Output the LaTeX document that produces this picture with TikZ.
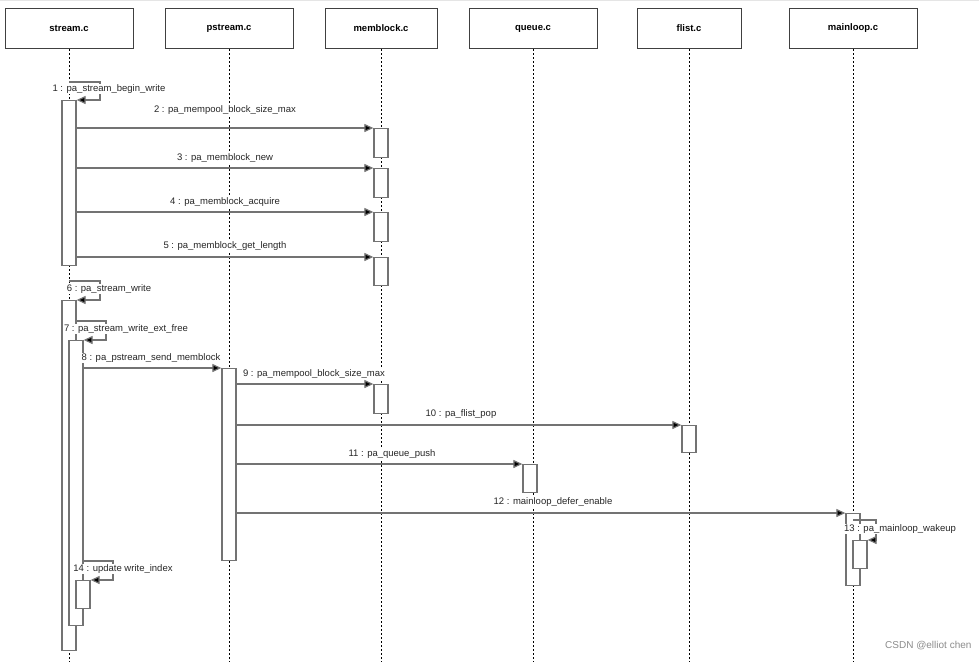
\documentclass[tikz,border=0pt]{standalone}
\usepackage{fontspec}
\setmainfont{Liberation Sans}
\usetikzlibrary{arrows.meta,positioning}

\tikzset{
  head/.style={draw=black!75, line width=1pt, fill=white, minimum width=#1, minimum height=40pt,
    inner sep=0pt, font=\fontsize{9.5}{11}\selectfont\bfseries, anchor=north},
  life/.style={dashed, line width=0.6pt, dash pattern=on 2pt off 2pt},
  actbar/.style={draw=black!55, line width=1.3pt, fill=white, minimum width=14pt, inner sep=0pt, anchor=north},
  msg/.style={draw=black!55, line width=1.2pt, -{Triangle[length=9pt,width=8pt,fill=black]}},
  lbl/.style={fill=white, inner sep=1pt, font=\fontsize{9.5}{11}\selectfont, text=black!85}
}
\newcommand{\actbar}[4]{\node[actbar, minimum height={#4pt-#3pt}] (#1) at (#2,#3) {};}

\begin{document}
\begin{tikzpicture}[x=1pt,y=-1pt]
\useasboundingbox (0,0) rectangle (979,662);
\fill[white] (0,0) rectangle (979,662);
\draw[black!10, line width=1pt, step=16pt] (0,-662) grid (979,0);
% headers
\node[head=128pt] (st) at (69,8) {stream.c};
\node[head=128pt] (ps) at (229,8) {pstream.c};
\node[head=112pt] (mb) at (381,8) {memblock.c};
\node[head=128pt] (qu) at (533,8) {queue.c};
\node[head=104pt] (fl) at (689,8) {flist.c};
\node[head=128pt] (ml) at (853,8) {mainloop.c};
\foreach \n in {st,ps,mb,qu,fl,ml}
  \draw[life] (\n.south) -- (\n.south |- 0,662);
% activations
\actbar{s1}{69}{100}{265}
\actbar{s2}{69}{300}{650}
\actbar{s3}{76}{340}{625}
\actbar{s4}{83}{580}{608}
\actbar{m2}{381}{128}{157}
\actbar{m3}{381}{168}{197}
\actbar{m4}{381}{212}{241}
\actbar{m5}{381}{257}{285}
\actbar{m9}{381}{384}{413}
\actbar{p8}{229}{368}{560}
\actbar{f10}{689}{425}{452}
\actbar{q11}{530}{464}{492}
\actbar{l12}{853}{513}{585}
\actbar{l13}{860}{540}{568}
% self calls
\coordinate (c1) at (100,82);
\draw[msg] (69,82) -- (c1) -- (c1 |- s1.north) -- (s1.north east);
\node[lbl] at (109,89) {1 : pa\_stream\_begin\_write};
\coordinate (c6) at (100,281);
\draw[msg] (69,281) -- (c6) -- (c6 |- s2.north) -- (s2.north east);
\node[lbl] at (109,289) {6 : pa\_stream\_write};
\coordinate (c7) at (106,321);
\draw[msg] (s2.east |- c7) -- (c7) -- (c7 |- s3.north) -- (s3.north east);
\node[lbl] at (126,329) {7 : pa\_stream\_write\_ext\_free};
\coordinate (c13) at (876,520);
\draw[msg] (l12.north |- c13) -- (c13) -- (c13 |- l13.north) -- (l13.north east);
\node[lbl] at (900,529) {13 : pa\_mainloop\_wakeup};
\coordinate (c14) at (113,561);
\draw[msg] (s3.east |- c14) -- (c14) -- (c14 |- s4.north) -- (s4.north east);
\node[lbl] at (123,569) {14 : update write\_index};
% messages
\draw[msg] (s1.east |- m2.north) -- (m2.north west);
\node[lbl] at (225,110) {2 : pa\_mempool\_block\_size\_max};
\draw[msg] (s1.east |- m3.north) -- (m3.north west);
\node[lbl] at (225,158) {3 : pa\_memblock\_new};
\draw[msg] (s1.east |- m4.north) -- (m4.north west);
\node[lbl] at (225,202) {4 : pa\_memblock\_acquire};
\draw[msg] (s1.east |- m5.north) -- (m5.north west);
\node[lbl] at (225,246) {5 : pa\_memblock\_get\_length};
\draw[msg] (s3.east |- p8.north) -- (p8.north west);
\node[lbl] at (151,358) {8 : pa\_pstream\_send\_memblock};
\draw[msg] (p8.east |- m9.north) -- (m9.north west);
\node[lbl] at (314,374) {9 : pa\_mempool\_block\_size\_max};
\draw[msg] (p8.east |- f10.north) -- (f10.north west);
\node[lbl] at (461,414) {10 : pa\_flist\_pop};
\draw[msg] (p8.east |- q11.north) -- (q11.north west);
\node[lbl] at (392,454) {11 : pa\_queue\_push};
\draw[msg] (p8.east |- l12.north) -- (l12.north west);
\node[lbl] at (553,502) {12 : mainloop\_defer\_enable};
\node[font=\fontsize{10}{12}\selectfont, text=black!45, anchor=east] at (975,646) {CSDN @elliot chen};
\end{tikzpicture}
\end{document}
